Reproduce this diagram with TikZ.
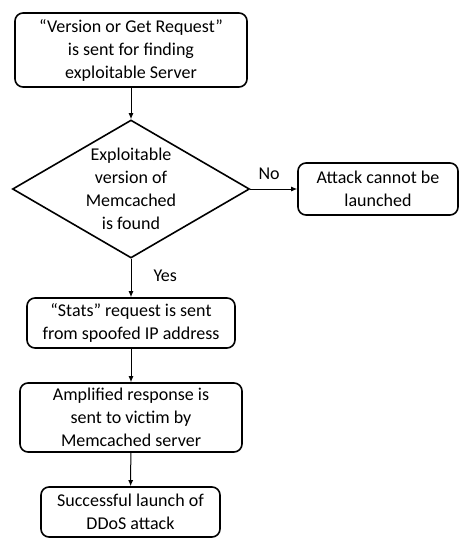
\documentclass[tikz,border=0pt]{standalone}
\usepackage{fontspec}
\setmainfont{Carlito}
\usetikzlibrary{shapes.geometric,arrows.meta}
\begin{document}
\begin{tikzpicture}[x=1pt,y=-1pt,
  font=\fontsize{18}{23}\selectfont,
  box/.style={draw, line width=1.6pt, rounded corners=8pt, align=center, inner sep=0pt},
  conn/.style={line width=1pt, -{Latex[length=6pt,width=5pt]}},
  lbl/.style={inner sep=0pt}]
\useasboundingbox (0,0) rectangle (469,550);
\node[box, minimum width=232pt, minimum height=74pt] (a) at (131,50) {“Version or Get Request”\\is sent for finding\\exploitable Server};
\node[diamond, draw, line width=1.6pt, minimum width=237pt, minimum height=138pt, inner sep=0pt, aspect=1.7, align=center] (d) at (131,189) {Exploitable\\version of\\Memcached\\is found};
\node[box, minimum width=160pt, minimum height=52pt] (n) at (378,189) {Attack cannot be\\launched};
\node[box, minimum width=208pt, minimum height=50pt] (s) at (131,323) {“Stats” request is sent\\from spoofed IP address};
\node[box, minimum width=222pt, minimum height=69pt] (r) at (131,417.5) {Amplified response is\\sent to victim by\\Memcached server};
\node[box, minimum width=179pt, minimum height=50pt] (f) at (130.5,512) {Successful launch of\\DDoS attack};
\draw[conn] (a) -- (d);
\draw[conn] (d) -- node[lbl, pos=0.4, above=9pt] (no) {No} (n);
\draw[conn] (d) -- node[lbl, pos=0.45, right=22pt] (yes) {Yes} (s);
\draw[conn] (s) -- (r);
\draw[conn] (r) -- (f);
\end{tikzpicture}
\end{document}
